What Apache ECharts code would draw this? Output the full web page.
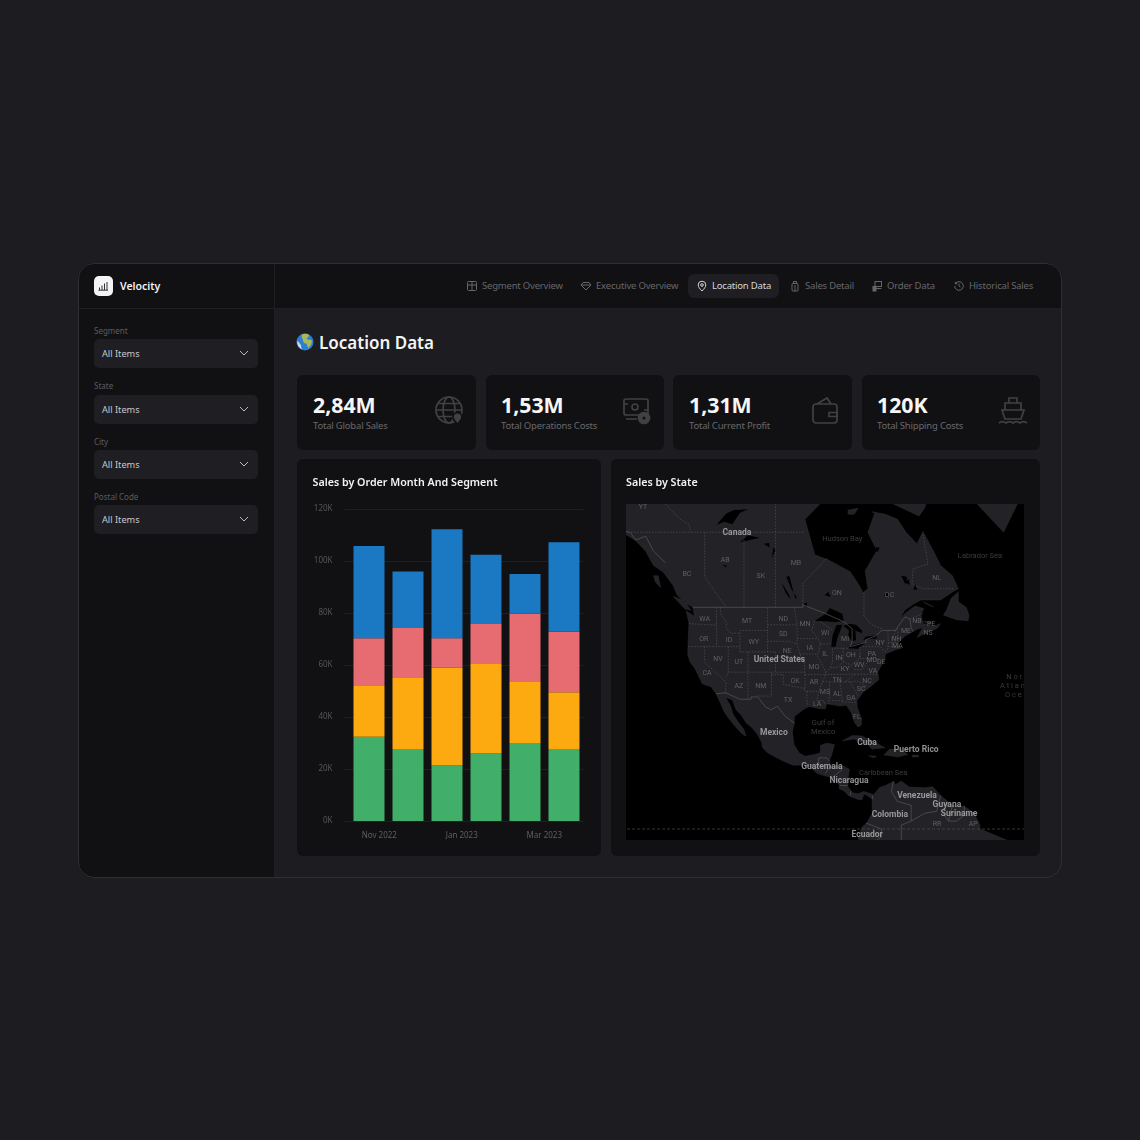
<!DOCTYPE html>
<html>
<head>
<meta charset="utf-8">
<title>Velocity - Location Data</title>
<script src="https://cdn.jsdelivr.net/npm/echarts@6/dist/echarts.min.js"></script>
<style>
html,body{margin:0;padding:0;width:1140px;height:1140px;background:#1c1c21;overflow:hidden;font-family:"Noto Sans",sans-serif;}
.abs,.abs *{box-sizing:border-box;}
.abs{position:absolute;white-space:nowrap;}
#frame{left:78px;top:263px;width:984px;height:615px;border:1px solid #2e2e33;border-radius:16px;}
#side{left:78px;top:263px;width:197px;height:615px;background:#111113;border-right:1px solid #202024;border-radius:16px 0 0 16px;}
#top{left:78px;top:263px;width:984px;height:46px;background:#111113;border-bottom:1px solid #202024;border-radius:16px 16px 0 0;}
#topdiv{left:274px;top:264px;width:1px;height:45px;background:#202024;}
#logo{left:94px;top:276px;width:19px;height:20px;background:#f4f4f6;border-radius:5px;}
#brand{left:120px;top:278px;font-size:10.5px;line-height:17px;font-weight:600;color:#f2f2f2;}
.flabel{left:94px;font-size:8px;line-height:12px;color:#5c5c60;}
.fbox{left:94px;width:164px;height:29px;background:#1e1e23;border-radius:5px;color:#c8c8ca;font-size:9.2px;line-height:30px;padding-left:8px;}
.fbox svg{position:absolute;left:145px;top:10px;}
.nav{top:279px;font-size:9.5px;letter-spacing:-0.2px;line-height:14px;color:#66666a;}
.navi{top:280px;width:12px;height:12px;}
#pill{left:688px;top:274px;width:91px;height:24px;background:#1e1e23;border-radius:6px;}
#h1{left:319px;top:330px;font-size:17px;line-height:26px;font-weight:600;color:#f4f4f4;}
.card{background:#111113;border-radius:6px;}
.kval{font-size:21.3px;line-height:28px;font-weight:700;color:#f6f6f6;top:391px;}
.ksub{font-size:9.5px;letter-spacing:-0.2px;line-height:14px;color:#68686c;top:419px;}
.kicon{top:396px;width:30px;height:30px;}
.ctitle{top:474px;font-size:10.7px;line-height:16px;font-weight:600;color:#f2f2f2;}
</style>
</head>
<body>
<div class="abs" id="side"></div>
<div class="abs" id="top"></div>
<div class="abs" id="topdiv"></div>

<div class="abs" id="logo">
  <svg width="19" height="20" viewBox="0 0 19 20" fill="none" stroke="#333" stroke-width="1"><path d="M5.5 14v-2.5M8 14v-4.5M10.5 14V7.5M13 14V6M4.5 14.2h9.5"/></svg>
</div>
<div class="abs" id="brand">Velocity</div>

<div class="abs flabel" style="top:325px">Segment</div>
<div class="abs fbox" style="top:339px">All Items<svg width="10" height="8" viewBox="0 0 10 8" fill="none" stroke="#b8b8ba" stroke-width="1"><path d="M1 2l4 4 4-4"/></svg></div>
<div class="abs flabel" style="top:380px">State</div>
<div class="abs fbox" style="top:394.5px">All Items<svg width="10" height="8" viewBox="0 0 10 8" fill="none" stroke="#b8b8ba" stroke-width="1"><path d="M1 2l4 4 4-4"/></svg></div>
<div class="abs flabel" style="top:436px">City</div>
<div class="abs fbox" style="top:450px">All Items<svg width="10" height="8" viewBox="0 0 10 8" fill="none" stroke="#b8b8ba" stroke-width="1"><path d="M1 2l4 4 4-4"/></svg></div>
<div class="abs flabel" style="top:491px">Postal Code</div>
<div class="abs fbox" style="top:505px">All Items<svg width="10" height="8" viewBox="0 0 10 8" fill="none" stroke="#b8b8ba" stroke-width="1"><path d="M1 2l4 4 4-4"/></svg></div>

<div class="abs" id="pill"></div>
<svg class="abs navi" style="left:466px" viewBox="0 0 12 12" fill="none" stroke="#66666a"><rect x="1.5" y="1.5" width="9" height="9" rx="1"/><path d="M1.5 5h9M6 1.5v9"/></svg>
<div class="abs nav" style="left:482px">Segment Overview</div>
<svg class="abs navi" style="left:580px" viewBox="0 0 12 12" fill="none" stroke="#66666a"><path d="M3 2.5h6l2 2.5-5 5-5-5z"/><path d="M1 5h10"/></svg>
<div class="abs nav" style="left:596px">Executive Overview</div>
<svg class="abs navi" style="left:696px" viewBox="0 0 12 12" fill="none" stroke="#d8d8d8"><path d="M6 11C3.6 8.6 2.2 6.8 2.2 5a3.8 3.8 0 0 1 7.6 0c0 1.800-1.400 3.600-3.800 6z"/><circle cx="6" cy="5" r="1.300"/></svg>
<div class="abs nav" style="left:712px;color:#d8d8d8">Location Data</div>
<svg class="abs navi" style="left:789px" viewBox="0 0 12 12" fill="none" stroke="#66666a"><rect x="3" y="3.500" width="6" height="7.500" rx="1"/><path d="M4.500 3.500V1.500h3v2M6 5v6"/></svg>
<div class="abs nav" style="left:805px">Sales Detail</div>
<svg class="abs navi" style="left:871px" viewBox="0 0 12 12" fill="none" stroke="#66666a"><rect x="4" y="1.500" width="6.500" height="5"/><rect x="2" y="6.500" width="3" height="4.500" fill="#66666a"/><path d="M5 8.500h5.500"/></svg>
<div class="abs nav" style="left:887px">Order Data</div>
<svg class="abs navi" style="left:953px" viewBox="0 0 12 12" fill="none" stroke="#66666a"><path d="M2.500 3.500A4.300 4.300 0 1 1 1.700 6"/><path d="M2.300 1.800v2h2M6 3.800V6l1.500 1"/></svg>
<div class="abs nav" style="left:969px">Historical Sales</div>

<svg class="abs" style="left:296px;top:333px" width="18" height="18" viewBox="0 0 18 18">
  <circle cx="9" cy="9" r="8.500" fill="#2f7fd0"/>
  <path d="M6 1.500c2-1 5-.8 7 .5 0 2-1.500 2.200-2.500 3.500.5 1.500 3 1 5 1.500 1 3-1 6-3 8-1.500-1-1-3-2-4.500-1.500 0-3.500-.5-3.500-3C7 6 5 4 6 1.500z" fill="#a8b85a"/>
  <path d="M1 8c2 .5 2.500 3 4 4 0 2 .5 3 1 4.500C3 15 1 12 1 8z" fill="#d6d8e6"/>
</svg>
<div class="abs" id="h1">Location Data</div>

<div class="abs card" style="left:297px;top:375px;width:179px;height:75px"></div>
<div class="abs kval" style="left:313px">2,84M</div>
<div class="abs ksub" style="left:313px">Total Global Sales</div>
<svg class="abs kicon" style="left:434px" viewBox="0 0 30 30" fill="none" stroke="#414145" stroke-width="1.700"><circle cx="15" cy="14" r="13"/><ellipse cx="15" cy="14" rx="6" ry="13"/><path d="M2 14h26M4 7.500h22M4 20.500h22"/><path d="M23.500 28c-3-3-4.500-4.800-4.500-6.800a4.500 4.500 0 0 1 9 0c0 2-1.500 3.800-4.500 6.800z" fill="#414145" stroke="#111113"/></svg>

<div class="abs card" style="left:485.500px;top:375px;width:178.500px;height:75px"></div>
<div class="abs kval" style="left:501px">1,53M</div>
<div class="abs ksub" style="left:501px">Total Operations Costs</div>
<svg class="abs kicon" style="left:622px" viewBox="0 0 30 30" fill="none" stroke="#414145" stroke-width="1.700"><rect x="2" y="3" width="24" height="16" rx="2"/><circle cx="13" cy="11" r="3"/><path d="M2 8h4M22 14h4M4 23h11"/><circle cx="22" cy="22" r="5.500" fill="#414145" stroke="#414145"/><circle cx="22" cy="22" r="1.500" fill="#111113" stroke="none"/></svg>

<div class="abs card" style="left:673px;top:375px;width:179px;height:75px"></div>
<div class="abs kval" style="left:689px">1,31M</div>
<div class="abs ksub" style="left:689px">Total Current Profit</div>
<svg class="abs kicon" style="left:810px" viewBox="0 0 30 30" fill="none" stroke="#414145" stroke-width="1.700"><rect x="3" y="8" width="24" height="19" rx="3"/><path d="M19 16.500h8v4h-8zM7 8l10-6 4 6"/></svg>

<div class="abs card" style="left:862px;top:375px;width:178px;height:75px"></div>
<div class="abs kval" style="left:877px">120K</div>
<div class="abs ksub" style="left:877px">Total Shipping Costs</div>
<svg class="abs kicon" style="left:998px" viewBox="0 0 30 30" fill="none" stroke="#414145" stroke-width="1.700"><path d="M11 2h8v5h-8zM7 7h16v7H7zM4 14h22l-3 9H7zM1 27c2.500-2 4.500-2 7 0 2.500-2 4.500-2 7 0 2.500-2 4.500-2 7 0 2.500-2 4.500-2 7 0"/></svg>

<div class="abs card" style="left:297px;top:459px;width:304px;height:397px"></div>
<div class="abs card" style="left:610.500px;top:459px;width:429.500px;height:397px"></div>
<div class="abs" id="bar_table" style="left:297px;top:459px;width:304px;height:397px"></div>
<div class="abs" id="state_map" style="left:626px;top:504px;width:398px;height:336px;background:#000"></div>
<div class="abs ctitle" style="left:312.500px">Sales by Order Month And Segment</div>
<div class="abs ctitle" style="left:626px">Sales by State</div>
<div class="abs" id="frame"></div>

<script>
// bar chart data (thousands)
var months = ['Nov 2022','Dec 2022','Jan 2023','Feb 2023','Mar 2023','Apr 2023'];
var monthTicks = ['Nov 2022','Jan 2023','Mar 2023'];
var greenVals = [32.4,27.7,21.3,26.0,30.0,27.7];
var orangeVals = [19.5,27.3,37.7,34.4,23.5,21.8];
var redVals = [18.4,19.2,11.3,15.4,26.2,23.3];
var blueVals = [35.5,21.8,41.9,26.6,15.3,34.4];

// map labels [name, lon, lat]
var stateLabels = [['YT',-135.7,63.2],['AB',-114.8,56.4],['BC',-124.5,54.4],['SK',-105.7,54],['MB',-96.8,56],['ON',-86.4,51.4],['QC',-73,51.2],['NL',-61,53.7],
  ['NB',-66,46.8],['PE',-62.4,46.2],['NS',-63.2,44.6],['WA',-120,47.2],['MT',-109.2,46.8],['ND',-100,47.2],['MN',-94.5,46.2],['WI',-89.4,44.6],['MI',-84.3,43.6],
  ['ME',-68.8,45],['NH',-71.3,43.6],['MA',-71,42.2],['NY',-75.4,42.8],['OR',-120.2,43.6],['ID',-113.8,43.3],['WY',-107.5,43],['SD',-100,44.5],['NE',-99,41.4],
  ['IA',-93.2,41.8],['IL',-89.4,40.8],['IN',-85.8,40],['OH',-82.8,40.5],['PA',-77.5,40.8],['MD',-77.5,39.5],['DE',-75.1,39.1],['WV',-80.7,38.6],['VA',-77.2,37.3],
  ['NV',-116.6,39.7],['UT',-111.3,39.1],['CA',-119.4,37],['MO',-92.2,38.2],['KY',-84.3,37.7],['OK',-97,35.4],['AR',-92.2,35.2],['TN',-86.3,35.6],['NC',-78.7,35.4],
  ['AZ',-111.3,34.2],['NM',-105.7,34.2],['MS',-89.4,33.1],['AL',-86.3,32.6],['SC',-80.2,33.6],['GA',-82.8,31.8],['TX',-98.8,31.4],['LA',-91.4,30.4],['FL',-81.3,27.6],
  ['RR',-60.9,1.5],['AP',-51.7,1.5]];
var countryLabels = [['Canada',-111.8,60],['United States',-101,39.7],['Mexico',-102.4,24],['Cuba',-78.7,21.6],['Puerto Rico',-66.2,20],['Guatemala',-90.2,15.8],
  ['Nicaragua',-83.3,12.4],['Venezuela',-66,8.6],['Guyana',-58.4,6.4],['Suriname',-55.3,4.1],['Colombia',-72.9,3.8],['Ecuador',-78.7,-1.3]];
var seaLabels = [['Hudson Bay',-85,59.3],['Labrador Sea',-50,57],['Gulf of\nMexico',-89.9,25.1],['Caribbean Sea',-74.6,14.4],['N o r t h\nA t l a n t i c\nO c e a n',-40,34.4]];

// base map outlines in lon/lat
var landShapes = [
  [[-150,72],[-150,61],[-141,60],[-137.5,58.9],[-135,57.5],[-133,55.5],[-130.5,54.5],[-128,52.5],[-127,51],[-125,49.8],[-123,49],[-122.6,47.5],[-124.7,48.4],[-124,46.3],[-124.2,43],[-124.3,40.4],[-123.7,39],[-122.5,37.8],[-120.6,34.6],[-118.4,34],[-117.1,32.5],
   [-116,30.5],[-115,28.5],[-114,27.2],[-112.5,25.5],[-110.5,23.5],[-109.5,23],[-110,24.5],[-111.3,26],[-112.8,28],[-113.5,30],[-114.7,31.7],[-113,31.2],[-112,29],[-110.8,27.9],[-109.4,26],[-108,25],[-106.5,23.3],[-105.5,21.5],[-105.3,20.3],[-104,19],[-102,18],[-100,17],[-97.5,16],[-95,16.1],[-93,15.5],[-91.5,14],[-89.5,13.4],[-87.6,13],[-87,12.5],[-85.7,11],[-85.8,10.2],[-84.5,9.6],[-83.5,8.5],[-82.8,8.2],[-81,7.5],[-80,7.4],[-79.5,8.9],[-78.2,8.2],[-77.4,7.5],[-77.4,4],[-78.8,1.5],[-80,0.5],[-80.5,-1],[-81,-2.5],[-80,-3.4],[-80,-6],
   [-35,-6],[-44,-2.5],[-50,0],[-50,1],[-51.5,4],[-54,5.8],[-57,6],[-60,8.5],[-62,10.7],[-64,10.4],[-68,10.6],[-70,12.1],[-71.5,11.2],[-72,12],[-74,11],[-75.5,10.5],[-77,8.7],[-79.5,9.5],[-81,8.9],[-82.5,9.2],[-83.6,10.8],[-83.6,12.5],[-83.2,15],[-85,15.9],[-88,15.8],[-88.3,17],[-87.7,18.5],[-87,21],[-89,21.3],[-90.5,20.8],[-90.6,19],[-92,18.6],[-94.5,18.2],[-96,19],[-97.3,21],[-97.7,24],[-97.2,26],[-97.2,27.5],[-95,29],[-93.5,29.7],[-90.5,29.2],[-89.3,29.2],[-89,30.3],[-85.5,29.8],[-84,30],[-82.8,28.5],[-81.8,26],[-81,25.1],[-80.2,25.5],[-80.1,27],[-81.2,29.5],[-81.3,31],[-79.5,33],[-77.8,34],[-75.7,35.5],[-76,37],[-75.3,38],[-74.2,39.5],[-74,40.6],[-71.5,41.4],[-70,41.7],[-70.8,42.7],[-69,44],[-67,44.8],[-66,45.2],[-64.5,45.5],[-66,43.7],[-64,44.5],[-61,45.3],[-60,46.2],[-61.5,45.8],[-64.5,46.2],[-65,47.8],[-64.3,48.8],[-66.5,49.2],[-69,48],[-70.5,47],[-69,48.6],[-67,49.5],[-65,50.2],[-60,50.2],[-57,51.5],[-55.5,52],[-57,54],[-60,55.5],[-61.8,57.5],[-64.5,60.1],[-66,58.5],[-68.8,60],[-71,61.6],[-74,62.2],[-77.5,62.5],[-76.7,62.4],[-78.5,60],[-76.2,57.6],[-79.2,54.7],[-78.5,52],[-79.7,51.4],[-81,52.8],[-83,54.6],[-88.6,56.3],[-92,57],[-94.5,61.6],[-90.7,63.4],[-88,66],[-85,72],[-150,72]],
  [[-128,50.8],[-125,50],[-123.5,48.5],[-125,48.7]],
  [[-133,54],[-131.8,54],[-131.2,52.2],[-132.5,53]],
  [[-59.3,47.7],[-56,46.9],[-53,46.7],[-52.8,47.7],[-53.5,49],[-55.5,49.9],[-55.5,51.5],[-57.3,50.5],[-58.5,48.5]],
  [[-64.4,49.9],[-61.8,49.1],[-62.8,49.3]],
  [[-64.4,46.6],[-62,46.4],[-62.6,46]],
  [[-84.9,21.9],[-82.5,23.1],[-80,23],[-77,21.7],[-74.2,20.2],[-77.5,19.9],[-78.5,21],[-82,22.3]],
  [[-74.4,18.5],[-73,19.9],[-70,19.8],[-68.4,18.6],[-71,18],[-72,18.2]],
  [[-78.3,18.3],[-76.3,18.2],[-77,17.8]],
  [[-67.2,18.5],[-65.6,18.4],[-65.7,18],[-67.2,18]],
  [[-83.5,62.7],[-81,62.9],[-82,62.2],[-83.6,62.2]],
  [[-79,66],[-74,64],[-72,63.4],[-65.5,62],[-64,63],[-62,66],[-70,72]],
  [[-56,72],[-54,70],[-50.7,63.4],[-44,60],[-40.5,63.4],[-36,66],[-30,72]]
];
var waterShapes = [
  [[-92,46.7],[-89,48],[-88.2,48.9],[-85,47.9],[-84.6,46.6],[-87,46.5],[-90,46.6]],
  [[-87.8,42],[-87.5,44],[-86.5,45.9],[-85,46],[-85.5,45],[-86.3,43.5],[-86.7,42]],
  [[-84.7,45.8],[-83.5,46.2],[-81.5,46],[-80,45],[-80,44.5],[-81.7,45],[-81.5,43.2],[-82.5,43],[-83.5,44],[-83.3,45]],
  [[-83.4,41.7],[-81,41.6],[-79,42.8],[-80.5,42.7],[-83,42.2]],
  [[-79.7,43.3],[-76.3,43.5],[-76.2,44.1],[-79,43.9]],
  [[-98.5,54],[-97,50.5],[-96.5,50.5],[-98,52],[-99.2,53.8]],
  [[-100.5,53],[-98.5,51],[-98.2,50.3],[-99.5,51.5]],
  [[-117,60.9],[-115,61.3],[-113,61],[-111,62.4],[-109,62.8],[-112.5,62.7],[-114.5,62.3]],
  [[-111,58.7],[-106,59.3],[-109,59.6]],
  [[-103,56.5],[-102,57.7],[-102.5,58]],
  [[-105,58.5],[-103.5,58],[-103.6,58.6]],
  [[-74.5,51],[-73,50.6],[-73.5,51.4]],
  [[-115.5,55.6],[-114.5,55.2],[-114.5,55.5]],
  [[-95,49.5],[-94,49],[-94,49.8]],
  [[-69.2,53],[-67.8,52.6],[-68.2,53.5]],
  [[-66.5,52.8],[-66,51.8],[-66.9,51.9]],
  [[-70,54],[-69,52.7],[-68.5,53.8]],
  [[-89.5,51],[-88,50.7],[-88.5,51.5]],
  [[-78,58],[-76,57.4],[-75.5,58]]
];
var regionBorders = [
  [[-130,63.4],[-126.5,61.7],[-124,61],[-123.5,60]],[[-102,60],[-102,64]],
  [[-120,60],[-120,53.8],[-114.5,49]],[[-110,49],[-110,60]],[[-102,49],[-102,60]],[[-95,49.4],[-95,52.8],[-89,56.5]],[[-141,60],[-94.8,60]],
  [[-79.5,47.6],[-79.5,51.4]],[[-79.5,47.6],[-77.5,46],[-75,45.3]],[[-64.5,59.7],[-63.2,55.7],[-67,55],[-67.3,52.7],[-64.5,52],[-56.8,52]],[[-67.8,47],[-64.3,48]],
  [[-124,46.2],[-119,46],[-117,46]],[[-117,49],[-117,46],[-116.9,44],[-117,42]],[[-124.2,42],[-111,42]],[[-120,42],[-120,39],[-114.6,35],[-114.7,32.7]],
  [[-114,42],[-114,37],[-114.6,36]],[[-114,37],[-94.6,37]],[[-109,41],[-109,31.3]],[[-111,41],[-102,41]],[[-111,41],[-111,45],[-104,45]],[[-104,41],[-104,49]],
  [[-116,49],[-116,48],[-114.5,46.5],[-114.5,45.5],[-113.5,44.5],[-111,44.5]],[[-104,46],[-96.5,46]],[[-104,43],[-98.5,43],[-96.5,42.5]],[[-102,40],[-95.3,40]],
  [[-102,41],[-102,37]],[[-103,37],[-103,32],[-106.5,32]],[[-103,36.5],[-100,36.5],[-100,34.5],[-94.5,33.6]],[[-94.6,39],[-94.6,36.5]],
  [[-97.2,49],[-96.5,46],[-96.5,42.5],[-95.8,40.5],[-95.3,40],[-94.6,39]],[[-96.5,43.5],[-91.2,43.5]],[[-95.8,40.6],[-91.5,40.6]],
  [[-92,46.7],[-92.8,45],[-91.2,43.5],[-90.6,42.5],[-91,41],[-91.5,40.4],[-90.3,38.8],[-89.2,37],[-89.5,36],[-90.1,35],[-91,33],[-91.5,31],[-89.7,31],[-89.5,30.2]],
  [[-94.5,36.5],[-89.7,36.5]],[[-94.5,36.5],[-94.5,33]],[[-94,33],[-91,33]],[[-94,33],[-94,31],[-93.7,29.7]],
  [[-90.6,42.5],[-87.8,42.5]],[[-87.5,41.7],[-87.5,39],[-88,37.9]],[[-84.8,41.7],[-84.8,39.1]],[[-87,41.7],[-83.5,41.7]],[[-90.5,46.5],[-87.6,45.1]],
  [[-89.2,37],[-88,37.9],[-86,38],[-84.8,39.1],[-82.6,38.4],[-80.7,39.7],[-80.5,40.6]],[[-80.5,42],[-80.5,39.7]],[[-79.8,42],[-75.3,42],[-74.7,41.4],[-73.7,41]],[[-80.5,39.7],[-75.8,39.7]],
  [[-89.5,36.5],[-81.7,36.6],[-75.9,36.55]],[[-90,35],[-84.3,35],[-81.7,36.6]],[[-88.2,35],[-88.4,30.3]],[[-85.6,35],[-85,31],[-84.9,30.7]],[[-87.5,31],[-85,31]],[[-85,30.7],[-82,30.6],[-81.5,30.7]],
  [[-83.1,35],[-81,32.1]],[[-84.3,35],[-81,35.1],[-78.6,33.9]],[[-82,37.5],[-80,37.5],[-78.3,39.3]],[[-73.4,45],[-73.3,42.7],[-73.5,41.3]],[[-71.5,45],[-72.5,42.7]],[[-73.3,42.7],[-70.8,42.8]],[[-73.5,42],[-71.5,42]],[[-71,45.3],[-70.7,43.1]]
];
var borderLines = [
  [[-141,60.2],[-141,72]],[[-141,60.2],[-139,60],[-137.5,59],[-135,59.5],[-133,57.5],[-130,55.9]],
  [[-123,49],[-95,49],[-95,49.4],[-89.5,48],[-84.5,46.5],[-82.5,45.3],[-82.5,43],[-83,42],[-79,42.8],[-79,43.3],[-76.5,44],[-75,45],[-71.5,45],[-70,46.5],[-69,47.4],[-67.8,47],[-67.5,45.5],[-67,44.8]],
  [[-117.1,32.5],[-114.7,32.7],[-111,31.3],[-108.2,31.3],[-108.2,31.8],[-106.5,31.8],[-104.5,29.6],[-103,29],[-101.5,29.8],[-99.5,27.5],[-97.2,26]],
  [[-92,15],[-91,16],[-91,17.8],[-89,17.8],[-88.3,17]],[[-89.3,14],[-88,15.8]],[[-87.5,13],[-85,15]],[[-85.7,11],[-83.7,11]],[[-83,8.5],[-82.8,9.5]],[[-77.4,8.5],[-77.2,7.5]],
  [[-72,12],[-72.5,9.5],[-71,7],[-67.5,6],[-67.5,2],[-70,1],[-70,-3]],[[-67.5,2],[-64,4],[-61,4.5],[-60,8.5]],[[-60,5],[-58,2],[-56,2],[-54,3.5],[-54,5.8]],[[-57,6],[-58,2]],[[-79,1.5],[-75,0],[-75,-2],[-78,-4]]
];
var equatorLine = [[[-141,0],[-37,0]]];

function toLabelData (rows) {
    return rows.map(function (r) { return {name: r[0], value: [r[1], r[2]]}; });
}
function toLineData (rows) {
    return rows.map(function (r) { return {coords: r}; });
}
function mercY (lat) {
    return Math.log(Math.tan(Math.PI / 4 + lat * Math.PI / 360));
}

function barTable () {
    var bar_table = echarts.init(document.getElementById('bar_table'));
    var names = ['Segment 1','Segment 2','Segment 3','Segment 4'];
    var vals = [greenVals, orangeVals, redVals, blueVals];
    var cols = ['#41ae69','#fdaa10','#e66c72','#1b79c3'];
    var series = [];
    for (var i = 0; i < 4; i++) {
        series.push({
            name: names[i], type: 'bar', stack: 'all', barWidth: 31, data: vals[i],
            xAxisIndex: 0, yAxisIndex: 0,
            itemStyle: {color: cols[i]}, silent: true
        });
    }
    bar_table.setOption({
        animation: false,
        grid: [
            {left: 52.5, top: 50, width: 234, height: 312},
            {left: 41, top: 50, width: 247.5, height: 312} // month ticks sit on their own wider band
        ],
        xAxis: [
            {type: 'category', gridIndex: 0, data: months, axisLabel: {show: false}, axisLine: {show: false}, axisTick: {show: false}},
            {type: 'category', gridIndex: 1, data: monthTicks, axisLine: {show: false}, axisTick: {show: false},
             axisLabel: {color: '#5f5f63', fontSize: 8, fontFamily: 'Noto Sans', margin: 11}}
        ],
        yAxis: [
            {type: 'value', gridIndex: 0, min: 0, max: 120, interval: 20,
             axisLine: {show: false},
             axisTick: {show: true, length: 5.5, lineStyle: {color: '#1f1f23'}},
             axisLabel: {color: '#55555a', fontSize: 8, fontFamily: 'Noto Sans', margin: 17, padding: [6, 0, 0, 0], formatter: '{value}K'},
             splitLine: {lineStyle: {color: '#1f1f23', width: 1}}},
            {type: 'value', gridIndex: 1, min: 0, max: 120, show: false}
        ],
        series: series
    });
}

function stateMap () {
    echarts.registerMap('northAmerica', {type: 'FeatureCollection', features: [
        {type: 'Feature', properties: {name: 'land'}, geometry: {type: 'MultiPolygon', coordinates: landShapes.map(function (s) { return [s]; })}},
        {type: 'Feature', properties: {name: 'water'}, geometry: {type: 'MultiPolygon', coordinates: waterShapes.map(function (s) { return [s]; })}}
    ]});
    var state_map = echarts.init(document.getElementById('state_map'));
    state_map.setOption({
        animation: false,
        backgroundColor: '#000',
        geo: {
            map: 'northAmerica', silent: true, roam: false,
            left: 0, top: 0, width: 398, height: 336,
            projection: {
                project: function (p) { return [p[0] * Math.PI / 180, -mercY(p[1])]; },
                unproject: function (p) { return [p[0] * 180 / Math.PI, (2 * Math.atan(Math.exp(-p[1])) - Math.PI / 2) * 180 / Math.PI]; }
            },
            boundingCoords: [[-140, 63.4], [-38.8, -2.8]],
            itemStyle: {areaColor: '#232226', borderColor: '#232226', borderWidth: 0},
            label: {show: false},
            regions: [
                {name: 'land', itemStyle: {areaColor: '#232226', borderColor: '#36363a', borderWidth: 0.4}},
                {name: 'water', itemStyle: {areaColor: '#000', borderColor: '#000', borderWidth: 0}}
            ]
        },
        series: [
            {type: 'lines', coordinateSystem: 'geo', polyline: true, silent: true, data: toLineData(regionBorders),
             lineStyle: {color: '#525256', width: 0.7, type: [1.5, 1.5], opacity: 1}},
            {type: 'lines', coordinateSystem: 'geo', polyline: true, silent: true, data: toLineData(borderLines),
             lineStyle: {color: '#57575b', width: 0.7, opacity: 1}},
            {type: 'lines', coordinateSystem: 'geo', polyline: true, silent: true, data: toLineData(equatorLine),
             lineStyle: {color: '#4f4f53', width: 0.7, type: [3, 2], opacity: 1}},
            {type: 'scatter', coordinateSystem: 'geo', symbolSize: 0, silent: true, data: toLabelData(seaLabels),
             label: {show: true, position: 'inside', offset: [0, 1], formatter: '{b}', color: '#4a4a4e', fontSize: 7.5, lineHeight: 9, fontFamily: 'Roboto'}},
            {type: 'scatter', coordinateSystem: 'geo', symbolSize: 0, silent: true, data: toLabelData(stateLabels),
             label: {show: true, position: 'inside', offset: [0, 1], formatter: '{b}', color: '#6f6f73', fontSize: 7, fontFamily: 'Roboto'}},
            {type: 'scatter', coordinateSystem: 'geo', symbolSize: 0, silent: true, data: toLabelData(countryLabels),
             label: {show: true, position: 'inside', offset: [0, 1], formatter: '{b}', color: '#b4b4b7', fontSize: 8.5, fontWeight: 700, fontFamily: 'Roboto'}}
        ]
    });
}

barTable();
stateMap();
</script>
</body>
</html>
